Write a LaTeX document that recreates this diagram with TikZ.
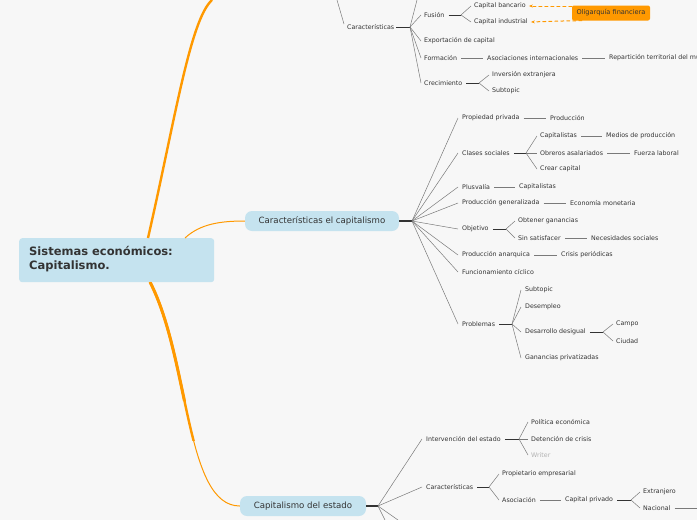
\documentclass[tikz,border=0pt]{standalone}
\usepackage{fontspec}
\setmainfont{DejaVu Sans}
\usetikzlibrary{arrows.meta}
\definecolor{bg}{HTML}{F7F7F7}
\definecolor{tx}{HTML}{333333}
\definecolor{ln}{HTML}{7A7A7A}
\definecolor{blu}{HTML}{C5E3EF}
\definecolor{org}{HTML}{FF9900}
\begin{document}
\begin{tikzpicture}[x=1pt,y=-1pt,
  leaf/.style={anchor=west,inner sep=0pt,text=tx,font=\fontsize{6.3}{7}\selectfont},
  main/.style={fill=blu,rounded corners=7pt,text=tx,font=\fontsize{8.6}{10}\selectfont,minimum height=20pt,inner sep=0pt},
  cn/.style={draw=ln,line width=0.5pt},
  hubl/.style={draw=tx,line width=1.5pt},
  ob/.style={draw=org,line cap=round}]
\fill[bg] (0,0) rectangle (697,520);
\useasboundingbox (0,0) rectangle (697,520);
% root
\node[fill=blu,rounded corners=3pt,minimum width=195pt,minimum height=44pt,anchor=north west,inner sep=0pt] (root) at (19,238) {};
\node[anchor=north west,align=left,text=tx,font=\fontsize{11.5}{14.5}\selectfont\bfseries,inner sep=0pt] (roott) at (29,246) {Sistemas económicos:\\Capitalismo.};
% main nodes
\node[main,minimum width=154pt] (m2) at (322,221) {Características el capitalismo};
\node[main,minimum width=126pt] (m3) at (303,506) {Capitalismo del estado};
\coordinate (topend) at (212,0);
% orange curves
\draw[org,line width=2.4pt] (148,238) .. controls (175,120) and (190,20) .. (topend);
\draw[org,line width=1pt] (185,238) .. controls (200,224) and (220,221) .. (m2.west);
\draw[org,line width=1pt] (150,282) .. controls (190,360) and (185,506) .. (m3.west);
\begin{scope}
\clip (100,282) rectangle (300,440);
\draw[org,line width=2.4pt] (150,282) .. controls (190,360) and (185,506) .. (m3.west);
\end{scope}
\begin{scope}
\clip (100,282) rectangle (300,400);
\draw[org,line width=3pt] (150,282) .. controls (190,360) and (185,506) .. (m3.west);
\end{scope}
% ---------- top branch
\node[leaf] (car1) at (347,27) {Características};
\coordinate (t0) at (337,0);
\draw[cn] (t0) -- (344,24);
\coordinate (h1) at (410,27);
\draw[hubl,line width=1pt] ([xshift=2]car1.east) -- (h1);
\coordinate (up1) at (417,0);
\draw[cn] (h1) -- (up1);
\node[leaf] (fus) at (424,15) {Fusión};
\node[leaf] (exp) at (424,41) {Exportación de capital};
\node[leaf] (for) at (424,58) {Formación};
\node[leaf] (cre) at (424,83) {Crecimiento};
\foreach \n in {fus,exp,for,cre}{\draw[cn] (h1) -- ([xshift=-3]\n.west);}
\coordinate (hf) at (461,15);
\draw[hubl,line width=1pt] ([xshift=4]fus.east) -- (hf);
\node[leaf] (cb) at (474,6) {Capital bancario};
\node[leaf] (ci) at (474,22) {Capital industrial};
\draw[cn] (hf) -- ([xshift=-3]cb.west); \draw[cn] (hf) -- ([xshift=-3]ci.west);
\node[fill=org,rounded corners=2pt,text=tx,font=\fontsize{6.6}{7}\selectfont,minimum width=78pt,minimum height=15pt,inner sep=0pt] (oli) at (611,13) {Oligarquía financiera};
\draw[ob,dashed,line width=1pt,-{Stealth[length=4pt]}] (oli.west|-0,6) -- ([xshift=3]cb.east);
\draw[ob,dashed,line width=1pt,-{Stealth[length=4pt]}] ([xshift=10]oli.south west) .. controls (560,21) .. ([xshift=3]ci.east);
\node[leaf] (asi) at (487,58) {Asociaciones internacionales};
\node[leaf] (rep) at (609,58) {Repartición territorial del mundo};
\draw[cn] ([xshift=4]for.east) -- ([xshift=-4]asi.west);
\draw[cn] ([xshift=4]asi.east) -- ([xshift=-4]rep.west);
\coordinate (hc) at (479,83);
\draw[hubl,line width=1pt] ([xshift=4]cre.east) -- (hc);
\node[leaf] (inv) at (492,75) {Inversión extranjera};
\node[leaf] (sub1) at (492,91) {Subtopic};
\draw[cn] (hc) -- ([xshift=-3]inv.west); \draw[cn] (hc) -- ([xshift=-3]sub1.west);
% ---------- middle branch
\coordinate (h2) at (412,221);
\draw[hubl] (m2.east) -- (h2);
\node[leaf] (pp) at (462,118) {Propiedad privada};
\node[leaf] (cs) at (462,153) {Clases sociales};
\node[leaf] (pl) at (462,187) {Plusvalía};
\node[leaf] (pg) at (462,203) {Producción generalizada};
\node[leaf] (ob) at (462,229) {Objetivo};
\node[leaf] (pa) at (462,255) {Producción anarquica};
\node[leaf] (fc) at (462,272) {Funcionamiento cíclico};
\node[leaf] (pr) at (462,324) {Problemas};
\foreach \n in {pp,cs,pl,pg,ob,pa,fc,pr}{\draw[cn] (h2) -- ([xshift=-4]\n.west);}
\node[leaf] (prod) at (550,118) {Producción};
\draw[cn] ([xshift=4]pp.east) -- ([xshift=-4]prod.west);
\coordinate (hcs) at (526,153);
\draw[hubl,line width=1pt] ([xshift=4]cs.east) -- (hcs);
\node[leaf] (cap1) at (540,136) {Capitalistas};
\node[leaf] (oa) at (540,153) {Obreros asalariados};
\node[leaf] (cc) at (540,169) {Crear capital};
\foreach \n in {cap1,oa,cc}{\draw[cn] (hcs) -- ([xshift=-3]\n.west);}
\node[leaf] (mp) at (606,136) {Medios de producción};
\node[leaf] (fl) at (634,153) {Fuerza laboral};
\draw[cn] ([xshift=4]cap1.east) -- ([xshift=-4]mp.west);
\draw[cn] ([xshift=4]oa.east) -- ([xshift=-4]fl.west);
\node[leaf] (cap2) at (519,187) {Capitalistas};
\draw[cn] ([xshift=4]pl.east) -- ([xshift=-4]cap2.west);
\node[leaf] (em) at (570,203) {Economía monetaria};
\draw[cn] ([xshift=4]pg.east) -- ([xshift=-4]em.west);
\coordinate (hob) at (506,229);
\draw[hubl,line width=1pt] ([xshift=4]ob.east) -- (hob);
\node[leaf] (og) at (518,221) {Obtener ganancias};
\node[leaf] (ss) at (518,238) {Sin satisfacer};
\draw[cn] (hob) -- ([xshift=-3]og.west); \draw[cn] (hob) -- ([xshift=-3]ss.west);
\node[leaf] (ns) at (591,238) {Necesidades sociales};
\draw[cn] ([xshift=4]ss.east) -- ([xshift=-4]ns.west);
\node[leaf] (cp) at (561,255) {Crisis periódicas};
\draw[cn] ([xshift=4]pa.east) -- ([xshift=-4]cp.west);
\coordinate (hpr) at (512,324);
\draw[hubl,line width=1pt] ([xshift=4]pr.east) -- (hpr);
\node[leaf] (sub2) at (525,290) {Subtopic};
\node[leaf] (des) at (525,307) {Desempleo};
\node[leaf] (dd) at (525,332) {Desarrollo desigual};
\node[leaf] (gp) at (525,358) {Ganancias privatizadas};
\foreach \n in {sub2,des,dd,gp}{\draw[cn] (hpr) -- ([xshift=-4]\n.west);}
\coordinate (hdd) at (603,332);
\draw[hubl,line width=1pt] ([xshift=4]dd.east) -- (hdd);
\node[leaf] (cam) at (616,324) {Campo};
\node[leaf] (ciu) at (616,341) {Ciudad};
\draw[cn] (hdd) -- ([xshift=-3]cam.west); \draw[cn] (hdd) -- ([xshift=-3]ciu.west);
% ---------- bottom branch
\coordinate (h3) at (378,506);
\draw[hubl] (m3.east) -- (h3);
\node[leaf] (ie) at (426,439) {Intervención del estado};
\node[leaf] (car3) at (426,487) {Características};
\foreach \n in {ie,car3}{\draw[cn] (h3) -- ([xshift=-4]\n.west);}
\coordinate (d1) at (385,520); \coordinate (d2) at (398,520);
\draw[cn] (h3) -- (d1); \draw[cn] (h3) -- (d2);
\coordinate (hie) at (519,439);
\draw[hubl,line width=1pt] ([xshift=4]ie.east) -- (hie);
\node[leaf] (pe) at (531,422) {Política económica};
\node[leaf] (dc) at (531,439) {Detención de crisis};
\node[leaf,text=gray!60] (wr) at (531,455) {Writer};
\foreach \n in {pe,dc,wr}{\draw[cn] (hie) -- ([xshift=-3]\n.west);}
\coordinate (hc3) at (489,487);
\draw[hubl,line width=1pt] ([xshift=4]car3.east) -- (hc3);
\node[leaf] (pem) at (502,474) {Propietario empresarial};
\node[leaf] (aso) at (502,500) {Asociación};
\draw[cn] (hc3) -- ([xshift=-3]pem.west); \draw[cn] (hc3) -- ([xshift=-3]aso.west);
\node[leaf] (cpr) at (565,500) {Capital privado};
\draw[cn] ([xshift=4]aso.east) -- ([xshift=-4]cpr.west);
\coordinate (hcp) at (631,500);
\draw[hubl,line width=1pt] ([xshift=4]cpr.east) -- (hcp);
\node[leaf] (ext) at (643,492) {Extranjero};
\node[leaf] (nac) at (643,508) {Nacional};
\draw[cn] (hcp) -- ([xshift=-3]ext.west); \draw[cn] (hcp) -- ([xshift=-3]nac.west);
\coordinate (rend) at (697,508);
\draw[cn] ([xshift=4]nac.east) -- (rend);
\end{tikzpicture}
\end{document}
